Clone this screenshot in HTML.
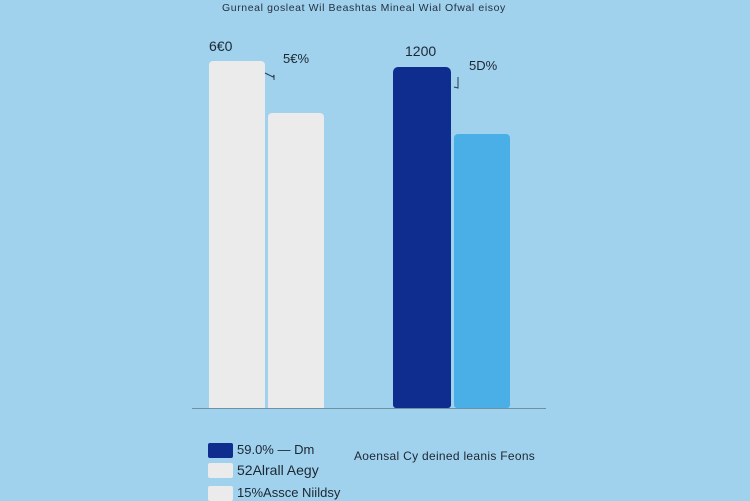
<!DOCTYPE html>
<html><head><meta charset="utf-8"><style>
html,body{margin:0;padding:0}
body{width:750px;height:500px;background:#a0d1ed;position:relative;overflow:hidden;font-family:"Liberation Sans",sans-serif;color:#1a2a3a}
.a{position:absolute}
.bar{position:absolute;border-radius:4px 4px 0 0}
</style></head><body>
<div class="a" style="left:222px;top:2px;font-size:10.5px;letter-spacing:0.6px;white-space:nowrap;color:#23323f">Gurneal gosleat Wil Beashtas  Mineal Wial Ofwal eisoy</div>

<div class="bar" style="left:209px;top:61px;width:56px;height:347px;background:#ebebeb"></div>
<div class="bar" style="left:268px;top:113px;width:56px;height:295px;background:#ebebeb"></div>
<div class="bar" style="left:393px;top:67px;width:58px;height:341px;background:#0f2d8e;border-radius:5px 5px 3px 3px"></div>
<div class="bar" style="left:454px;top:134px;width:56px;height:274px;background:#4aafe6;border-radius:4px 4px 3px 3px"></div>
<div class="a" style="left:192px;top:408px;width:354px;height:1px;background:#6c92a8"></div>

<div class="a" style="left:209px;top:38px;font-size:14px;color:#1c2733">6€0</div>
<div class="a" style="left:283px;top:51px;font-size:13px;color:#1c2733">5€%</div>
<div class="a" style="left:405px;top:43px;font-size:14px;color:#1c2733">1200</div>
<div class="a" style="left:469px;top:58px;font-size:13px;color:#1c2733">5D%</div>
<svg class="a" style="left:260px;top:70px" width="20" height="15"><path d="M5 3 L13 7 L14 5 L14 10" stroke="#2a3c50" stroke-width="1" fill="none"/></svg>
<svg class="a" style="left:450px;top:75px" width="15" height="15"><path d="M8 2 L8 13 L4 12" stroke="#2a3c50" stroke-width="1" fill="none"/></svg>

<div class="a" style="left:208px;top:443px;width:25px;height:15px;background:#0f2d8e;border-radius:2px"></div>
<div class="a" style="left:208px;top:463px;width:25px;height:15px;background:#ebebeb;border-radius:2px"></div>
<div class="a" style="left:208px;top:486px;width:25px;height:15px;background:#ebebeb;border-radius:2px"></div>
<div class="a" style="left:237px;top:442px;font-size:13px;color:#1c2733;white-space:nowrap">59.0% — Dm</div>
<div class="a" style="left:237px;top:462px;font-size:14px;color:#1c2733;white-space:nowrap">52Alrall Aegy</div>
<div class="a" style="left:237px;top:485px;font-size:13px;color:#1c2733;white-space:nowrap">15%Assce Niildsy</div>
<div class="a" style="left:354px;top:449px;font-size:12px;letter-spacing:0.3px;color:#1c2733;white-space:nowrap">Aoensal Cy deined leanis Feons</div>
</body></html>
